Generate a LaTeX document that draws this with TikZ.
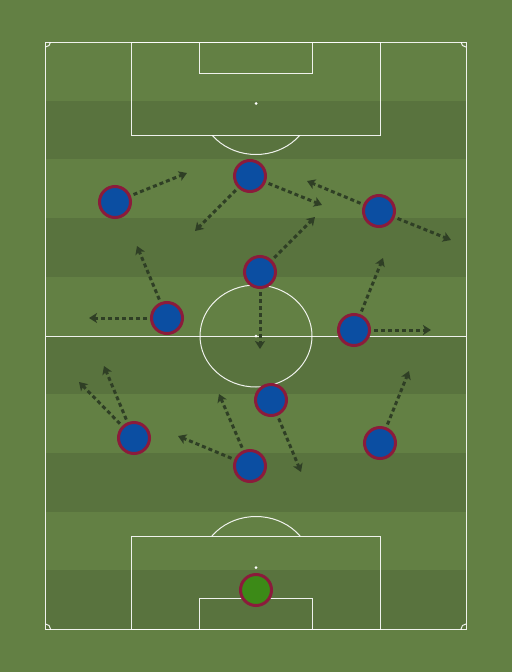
\documentclass[tikz,border=0pt]{standalone}
\usetikzlibrary{arrows.meta,shadows}
\definecolor{grass}{HTML}{638044}
\definecolor{stripe}{HTML}{59733E}
\definecolor{shirt}{HTML}{0B4EA2}
\definecolor{trim}{HTML}{8B1B3B}
\definecolor{keeper}{HTML}{3C8A17}
\definecolor{run}{HTML}{2F3F25}
\begin{document}
\begin{tikzpicture}[x=1pt, y=-1pt,
    mark line/.style = {draw=white, line width=1pt, opacity=.9},
    player/.style = {circle, draw=trim, fill=shirt, line width=3pt, minimum size=31pt, inner sep=0pt,
      drop shadow={shadow xshift=.8pt, shadow yshift=-1pt, opacity=.3}},
    runline/.style = {draw=run, line width=3pt, dash pattern=on 4pt off 3pt,
      -{Stealth[length=8pt, width=10pt, inset=2pt]}, shorten <=3pt}]
  \useasboundingbox (0,0) rectangle (512,672);
  \fill[grass] (0,0) rectangle (512,672);
  \foreach \i in {1,3,5,7,9}
    \fill[stripe] (45.5,42+58.7*\i) rectangle ++(420.5,58.7);
  % markings
  \draw[mark line] (45.5,42) rectangle (466,629);
  \draw[mark line] (45.5,336) -- (466,336);
  \draw[mark line] (256,336) ellipse [x radius=56, y radius=51];
  \draw[mark line] (131,42) rectangle (380,135) (199.5,42) rectangle (312.5,73);
  \draw[mark line] (131,629) rectangle (380,536) (199.5,629) rectangle (312.5,598);
  \fill[white] (256,103.5) circle (1.5) (256,336) circle (1.5) (256,567.5) circle (1.5);
  \begin{scope}
    \clip (45,135) rectangle (466,170) (45,500) rectangle (466,536);
    \draw[mark line] (256,103.5) ellipse [x radius=56, y radius=51]
      (256,567.5) ellipse [x radius=56, y radius=51];
  \end{scope}
  \begin{scope}
    \clip (45.5,42) rectangle (466,629);
    \draw[mark line] (45.5,42) circle (5) (466,42) circle (5) (45.5,629) circle (5) (466,629) circle (5);
  \end{scope}
  % players
  \node[player] (p1) at (115,202) {};
  \node[player] (p2) at (250,176) {};
  \node[player] (p3) at (379,211) {};
  \node[player] (p4) at (260,272) {};
  \node[player] (p5) at (167,318) {};
  \node[player] (p6) at (354,330) {};
  \node[player] (p7) at (271,400) {};
  \node[player] (p8) at (134,438) {};
  \node[player] (p9) at (250,466) {};
  \node[player] (p10) at (380,443) {};
  \node[player, fill=keeper] (gk) at (256,590) {};
  % runs
  \coordinate (e1) at (187,173);
  \coordinate (e2) at (195,231);
  \coordinate (e3) at (322,205);
  \coordinate (e4) at (307,181);
  \coordinate (e5) at (451,240);
  \coordinate (e6) at (315,217);
  \coordinate (e7) at (260,349);
  \coordinate (e8) at (137,246);
  \coordinate (e9) at (89,318);
  \coordinate (e10) at (383,258);
  \coordinate (e11) at (431,330);
  \coordinate (e12) at (301,472);
  \coordinate (e13) at (79,382);
  \coordinate (e14) at (104,366);
  \coordinate (e15) at (178,436);
  \coordinate (e16) at (219,394);
  \coordinate (e17) at (409,371);
  \foreach \p/\e in {p1/e1, p2/e2, p2/e3, p3/e4, p3/e5, p4/e6, p4/e7, p5/e8, p5/e9,
      p6/e10, p6/e11, p7/e12, p8/e13, p8/e14, p9/e15, p9/e16, p10/e17}
    \draw[runline] (\p) -- (\e);
\end{tikzpicture}
\end{document}
